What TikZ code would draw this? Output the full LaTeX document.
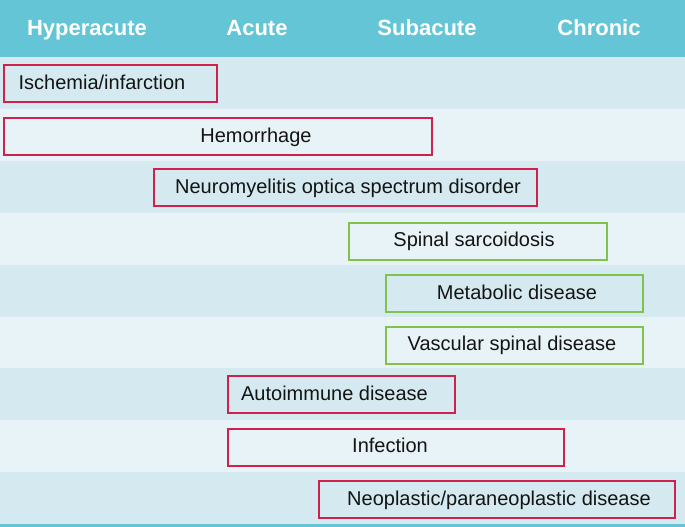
\documentclass[tikz,border=0pt]{standalone}
\usepackage{fontspec}
\setmainfont{Liberation Sans}
\usepackage{tikz}
\definecolor{PhaseHeadColor}{RGB}{99,197,214}
\definecolor{PhaseRowDark}{RGB}{212,234,240}
\definecolor{PhaseRowLight}{RGB}{231,243,246}
\definecolor{PhaseRed}{RGB}{208,32,78}
\definecolor{PhaseGreen}{RGB}{128,194,74}

\begin{document}
\begin{tikzpicture}[x=1pt,y=-1pt,
  dz/.style n args={3}{draw=#1,line width=2pt,minimum width=#2pt,minimum height=#3pt,inner sep=0pt,rectangle},
  lbl/.style={anchor=base,font=\fontsize{20}{24}\selectfont,text=black!92},
  head/.style={anchor=base,font=\fontsize{22}{26}\selectfont\bfseries,text=white}]
\useasboundingbox (0,0) rectangle (685,527);
% header and row bands
\fill[PhaseHeadColor] (0,0) rectangle (685,57);
\foreach \r/\c in %
{1/PhaseRowDark,2/PhaseRowLight,3/PhaseRowDark,4/PhaseRowLight,5/PhaseRowDark,6/PhaseRowLight,7/PhaseRowDark,8/PhaseRowLight,9/PhaseRowDark} {
   \fill[\c] (0,{57+51.9*(\r-1)}) rectangle (685,{57+51.9*\r});
}
\fill[PhaseHeadColor] (0,524) rectangle (685,527);
\foreach \x/\h in %
{87/Hyperacute,257/Acute,427/Subacute,599/Chronic} {
   \node[head] (h-\h) at (\x,36) {\h};
}
% disease boxes
   \node[dz={PhaseRed}{213}{37}](isch) at(110.5,83.5) {};
   \node[dz={PhaseRed}{428}{37}](hem) at(218,136.5) {};
   \node[dz={PhaseRed}{383}{37}](nmo) at(345.5,187.5) {};
   \node[dz={PhaseGreen}{258}{37}](sarc) at(478,241) {};
   \node[dz={PhaseGreen}{257}{37}](meta) at(514.5,293.5) {};
   \node[dz={PhaseGreen}{257}{37}](vasc) at(514.5,345) {};
   \node[dz={PhaseRed}{227}{37}](auto) at(341.5,394.5) {};
   \node[dz={PhaseRed}{336}{37}](inf) at(396,447) {};
   \node[dz={PhaseRed}{356}{37}](neo) at(497,499.5) {};
% labels
   \node[lbl](isch-t) at(102,89) {Ischemia/infarction};
   \node[lbl](hem-t) at(256,142) {Hemorrhage};
   \node[lbl](nmo-t) at(348,193) {Neuromyelitis optica spectrum disorder};
   \node[lbl](sarc-t) at(474,246.5) {Spinal sarcoidosis};
   \node[lbl](meta-t) at(517,299) {Metabolic disease};
   \node[lbl](vasc-t) at(512,350.5) {Vascular spinal disease};
   \node[lbl](auto-t) at(334.5,400) {Autoimmune disease};
   \node[lbl](inf-t) at(390,452.5) {Infection};
   \node[lbl](neo-t) at(499,505) {Neoplastic/paraneoplastic disease};
\end{tikzpicture}
\end{document}
